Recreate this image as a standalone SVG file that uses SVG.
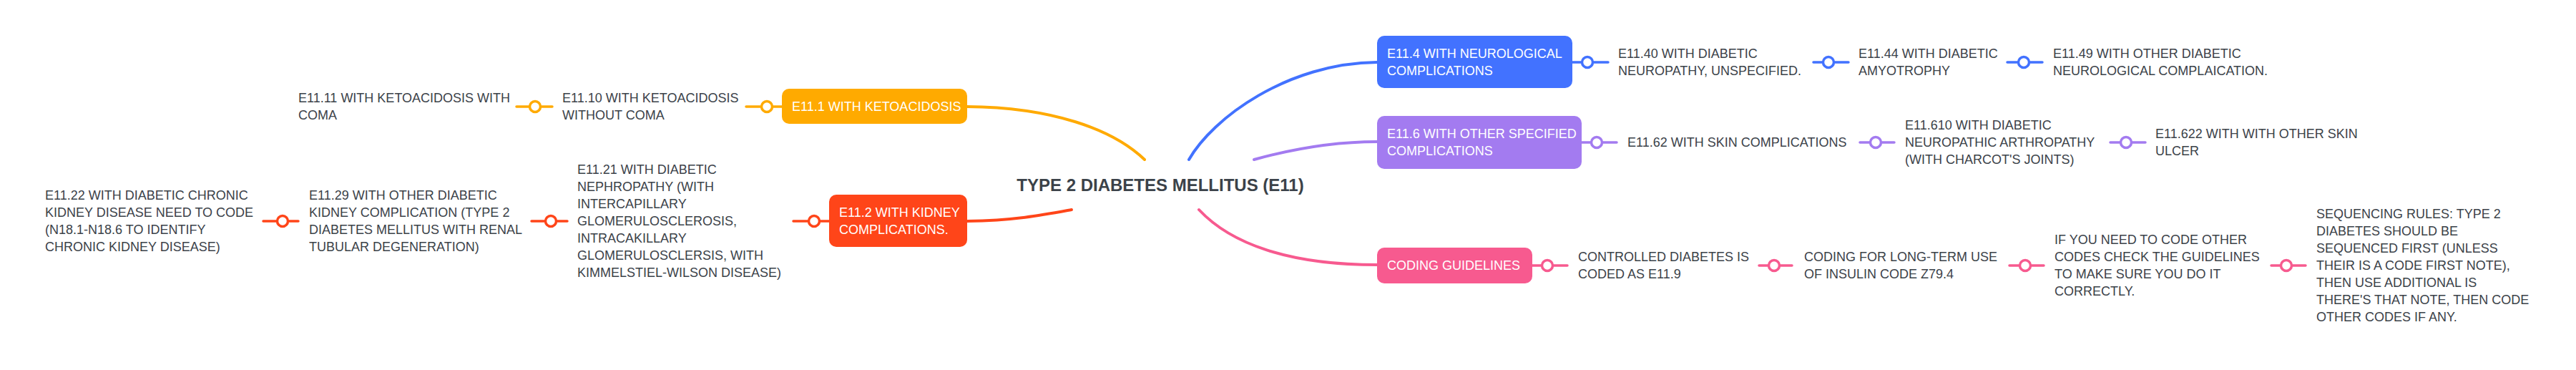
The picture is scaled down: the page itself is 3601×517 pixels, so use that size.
<svg xmlns="http://www.w3.org/2000/svg" width="3601" height="517" viewBox="0 0 3601 517">
<style>
.t{font-family:"Liberation Sans",Arial,sans-serif;font-size:18px;fill:#3b4249}
.w{font-family:"Liberation Sans",Arial,sans-serif;font-size:18px;fill:#ffffff}
.c{font-family:"Liberation Sans",Arial,sans-serif;font-size:24px;font-weight:bold;fill:#3b4249}
.m{fill:none;stroke-width:4;stroke-linecap:round}
.l{stroke-width:3.5;stroke-linecap:round}
.o{fill:#fff;stroke-width:3.5}
.or{stroke:#ffaa00}.rd{stroke:#ff4519}.bl{stroke:#4272ff}.pu{stroke:#a37bf0}.pk{stroke:#f75a8f}
</style>
<rect width="3601" height="517" fill="#ffffff"/>
<g id="connectors">
  <path class="m or" d="M1352,149 C1470,150 1555,180 1600,223"/>
  <path class="m rd" d="M1352,309 C1420,308 1460,300 1498,293"/>
  <path class="m bl" d="M1662,223 C1695,165 1800,88 1925,87"/>
  <path class="m pu" d="M1753,223 C1800,210 1860,198 1925,198"/>
  <path class="m pk" d="M1676,293 C1720,340 1800,370 1925,370"/>
  <line class="l or" x1="1043" y1="149" x2="1093" y2="149"/><circle class="o or" cx="1072" cy="149" r="7.5"/>
  <line class="l or" x1="722" y1="149" x2="772" y2="149"/><circle class="o or" cx="748" cy="149" r="7.5"/>
  <line class="l rd" x1="1109" y1="309" x2="1159" y2="309"/><circle class="o rd" cx="1138" cy="309" r="7.5"/>
  <line class="l rd" x1="743" y1="309" x2="793" y2="309"/><circle class="o rd" cx="770" cy="309" r="7.5"/>
  <line class="l rd" x1="368" y1="309" x2="417" y2="309"/><circle class="o rd" cx="395" cy="309" r="7.5"/>
  <line class="l bl" x1="2198" y1="87" x2="2248" y2="87"/><circle class="o bl" cx="2219" cy="87" r="7.5"/>
  <line class="l bl" x1="2535" y1="87" x2="2584" y2="87"/><circle class="o bl" cx="2556" cy="87" r="7.5"/>
  <line class="l bl" x1="2806" y1="87" x2="2855" y2="87"/><circle class="o bl" cx="2829" cy="87" r="7.5"/>
  <line class="l pu" x1="2211" y1="199" x2="2260" y2="199"/><circle class="o pu" cx="2232" cy="199" r="7.5"/>
  <line class="l pu" x1="2600" y1="199" x2="2648" y2="199"/><circle class="o pu" cx="2622" cy="199" r="7.5"/>
  <line class="l pu" x1="2950" y1="199" x2="2999" y2="199"/><circle class="o pu" cx="2972" cy="199" r="7.5"/>
  <line class="l pk" x1="2142" y1="371" x2="2191" y2="371"/><circle class="o pk" cx="2163" cy="371" r="7.5"/>
  <line class="l pk" x1="2459" y1="371" x2="2505" y2="371"/><circle class="o pk" cx="2480" cy="371" r="7.5"/>
  <line class="l pk" x1="2809" y1="371" x2="2857" y2="371"/><circle class="o pk" cx="2831" cy="371" r="7.5"/>
  <line class="l pk" x1="3175" y1="371" x2="3223" y2="371"/><circle class="o pk" cx="3196" cy="371" r="7.5"/>
</g>
<g id="root">
  <text class="c" x="1622" y="267" text-anchor="middle">TYPE 2 DIABETES MELLITUS (E11)</text>
</g>
<g id="e11-1">
  <rect x="1093" y="124" width="259" height="49" rx="10" fill="#ffaa00"/>
  <text class="w" x="1107" y="155">E11.1 WITH KETOACIDOSIS</text>
</g>
<g id="e11-10">
  <text class="t" x="786" y="143">E11.10 WITH KETOACIDOSIS<tspan x="786" y="167">WITHOUT COMA</tspan></text>
</g>
<g id="e11-11">
  <text class="t" x="417" y="143">E11.11 WITH KETOACIDOSIS WITH<tspan x="417" y="167">COMA</tspan></text>
</g>
<g id="e11-2">
  <rect x="1159" y="272" width="193" height="73" rx="10" fill="#ff4519"/>
  <text class="w" x="1173" y="303">E11.2 WITH KIDNEY<tspan x="1173" y="327">COMPLICATIONS.</tspan></text>
</g>
<g id="e11-21">
  <text class="t" x="807" y="243">E11.21 WITH DIABETIC<tspan x="807" y="267">NEPHROPATHY (WITH</tspan><tspan x="807" y="291">INTERCAPILLARY</tspan><tspan x="807" y="315">GLOMERULOSCLEROSIS,</tspan><tspan x="807" y="339">INTRACAKILLARY</tspan><tspan x="807" y="363">GLOMERULOSCLERSIS, WITH</tspan><tspan x="807" y="387">KIMMELSTIEL-WILSON DISEASE)</tspan></text>
</g>
<g id="e11-29">
  <text class="t" x="432" y="279">E11.29 WITH OTHER DIABETIC<tspan x="432" y="303">KIDNEY COMPLICATION (TYPE 2</tspan><tspan x="432" y="327">DIABETES MELLITUS WITH RENAL</tspan><tspan x="432" y="351">TUBULAR DEGENERATION)</tspan></text>
</g>
<g id="e11-22">
  <text class="t" x="63" y="279">E11.22 WITH DIABETIC CHRONIC<tspan x="63" y="303">KIDNEY DISEASE NEED TO CODE</tspan><tspan x="63" y="327">(N18.1-N18.6 TO IDENTIFY</tspan><tspan x="63" y="351">CHRONIC KIDNEY DISEASE)</tspan></text>
</g>
<g id="e11-4">
  <rect x="1925" y="50" width="273" height="73" rx="10" fill="#4272ff"/>
  <text class="w" x="1939" y="81">E11.4 WITH NEUROLOGICAL<tspan x="1939" y="105">COMPLICATIONS</tspan></text>
</g>
<g id="e11-40">
  <text class="t" x="2262" y="81">E11.40 WITH DIABETIC<tspan x="2262" y="105">NEUROPATHY, UNSPECIFIED.</tspan></text>
</g>
<g id="e11-44">
  <text class="t" x="2598" y="81">E11.44 WITH DIABETIC<tspan x="2598" y="105">AMYOTROPHY</tspan></text>
</g>
<g id="e11-49">
  <text class="t" x="2870" y="81">E11.49 WITH OTHER DIABETIC<tspan x="2870" y="105">NEUROLOGICAL COMPLAICATION.</tspan></text>
</g>
<g id="e11-6">
  <rect x="1925" y="162" width="286" height="74" rx="10" fill="#a37bf0"/>
  <text class="w" x="1939" y="193">E11.6 WITH OTHER SPECIFIED<tspan x="1939" y="217">COMPLICATIONS</tspan></text>
</g>
<g id="e11-62">
  <text class="t" x="2275" y="205">E11.62 WITH SKIN COMPLICATIONS</text>
</g>
<g id="e11-610">
  <text class="t" x="2663" y="181">E11.610 WITH DIABETIC<tspan x="2663" y="205">NEUROPATHIC ARTHROPATHY</tspan><tspan x="2663" y="229">(WITH CHARCOT'S JOINTS)</tspan></text>
</g>
<g id="e11-622">
  <text class="t" x="3013" y="193">E11.622 WITH WITH OTHER SKIN<tspan x="3013" y="217">ULCER</tspan></text>
</g>
<g id="coding">
  <rect x="1925" y="346" width="217" height="50" rx="10" fill="#f75a8f"/>
  <text class="w" x="1939" y="377">CODING GUIDELINES</text>
</g>
<g id="controlled">
  <text class="t" x="2206" y="365">CONTROLLED DIABETES IS<tspan x="2206" y="389">CODED AS E11.9</tspan></text>
</g>
<g id="insulin">
  <text class="t" x="2522" y="365">CODING FOR LONG-TERM USE<tspan x="2522" y="389">OF INSULIN CODE Z79.4</tspan></text>
</g>
<g id="other-codes">
  <text class="t" x="2872" y="341">IF YOU NEED TO CODE OTHER<tspan x="2872" y="365">CODES CHECK THE GUIDELINES</tspan><tspan x="2872" y="389">TO MAKE SURE YOU DO IT</tspan><tspan x="2872" y="413">CORRECTLY.</tspan></text>
</g>
<g id="sequencing">
  <text class="t" x="3238" y="305">SEQUENCING RULES: TYPE 2<tspan x="3238" y="329">DIABETES SHOULD BE</tspan><tspan x="3238" y="353">SEQUENCED FIRST (UNLESS</tspan><tspan x="3238" y="377">THEIR IS A CODE FIRST NOTE),</tspan><tspan x="3238" y="401">THEN USE ADDITIONAL IS</tspan><tspan x="3238" y="425">THERE'S THAT NOTE, THEN CODE</tspan><tspan x="3238" y="449">OTHER CODES IF ANY.</tspan></text>
</g>
</svg>
